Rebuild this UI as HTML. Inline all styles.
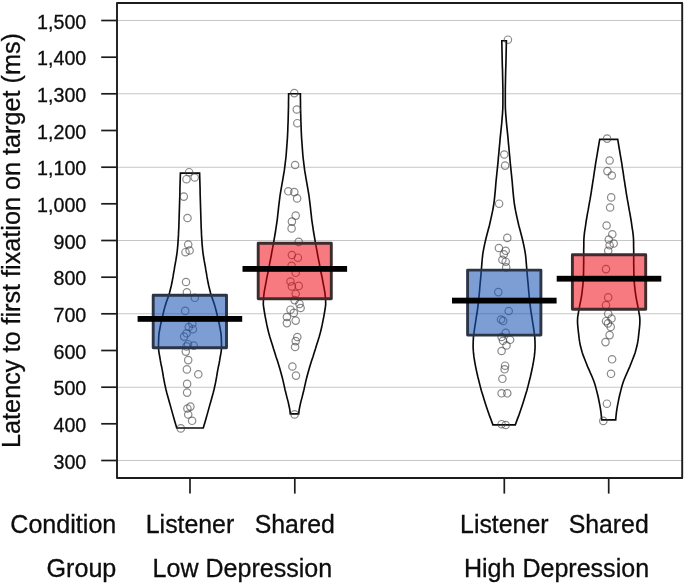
<!DOCTYPE html>
<html><head><meta charset="utf-8"><title>Pirate plot</title>
<style>
html,body{margin:0;padding:0;background:#fff;}
svg{display:block;}
text{font-family:"Liberation Sans",Arial,sans-serif;fill:#0d0d0d;stroke:#0d0d0d;stroke-width:0.3px;}
</style></head><body>
<svg width="685" height="585" viewBox="0 0 685 585">
<rect width="685" height="585" fill="#fff"/>

<line x1="117" x2="682" y1="460.5" y2="460.5" stroke="#c6c6c6" stroke-width="1.1"/>
<line x1="117" x2="682" y1="387.2" y2="387.2" stroke="#c6c6c6" stroke-width="1.1"/>
<line x1="117" x2="682" y1="313.8" y2="313.8" stroke="#c6c6c6" stroke-width="1.1"/>
<line x1="117" x2="682" y1="240.5" y2="240.5" stroke="#c6c6c6" stroke-width="1.1"/>
<line x1="117" x2="682" y1="167.2" y2="167.2" stroke="#c6c6c6" stroke-width="1.1"/>
<line x1="117" x2="682" y1="93.8" y2="93.8" stroke="#c6c6c6" stroke-width="1.1"/>
<line x1="117" x2="682" y1="20.5" y2="20.5" stroke="#c6c6c6" stroke-width="1.1"/>
<path d="M180.4,173.1 L180.3,176.3 L180.2,179.6 L180.1,182.8 L180.0,186.0 L179.9,189.2 L179.9,192.5 L179.8,195.7 L179.7,198.9 L179.6,202.1 L179.5,205.4 L179.4,208.6 L179.3,211.8 L179.2,215.0 L179.1,218.3 L179.0,221.5 L178.9,224.7 L178.8,228.0 L178.6,231.2 L178.5,234.4 L178.3,237.6 L178.1,240.9 L177.9,244.1 L177.6,247.3 L177.3,250.5 L176.9,253.8 L176.4,257.0 L175.9,260.2 L175.3,263.4 L174.7,266.7 L174.2,269.9 L173.6,273.1 L173.1,276.4 L172.5,279.6 L171.9,282.8 L171.2,286.0 L170.4,289.3 L169.6,292.5 L168.7,295.7 L167.5,298.9 L166.3,302.2 L165.3,305.4 L164.4,308.6 L163.6,311.8 L162.8,315.1 L162.1,318.3 L161.3,321.5 L160.6,324.7 L160.0,328.0 L159.4,331.2 L158.9,334.4 L158.7,337.7 L158.6,340.9 L158.5,344.1 L158.5,347.3 L158.7,350.6 L159.2,353.8 L159.8,357.0 L160.3,360.2 L160.9,363.5 L161.6,366.7 L162.2,369.9 L162.8,373.1 L163.3,376.4 L163.9,379.6 L164.5,382.8 L165.2,386.1 L165.9,389.3 L166.7,392.5 L167.6,395.7 L168.5,399.0 L169.4,402.2 L170.3,405.4 L171.2,408.6 L172.1,411.9 L173.0,415.1 L173.9,418.3 L174.8,421.5 L175.8,424.8 L176.7,428.0 L203.3,428.0 L204.2,424.8 L205.2,421.5 L206.1,418.3 L207.0,415.1 L207.9,411.9 L208.8,408.6 L209.7,405.4 L210.6,402.2 L211.5,399.0 L212.4,395.7 L213.3,392.5 L214.1,389.3 L214.8,386.1 L215.5,382.8 L216.1,379.6 L216.7,376.4 L217.2,373.1 L217.8,369.9 L218.4,366.7 L219.1,363.5 L219.7,360.2 L220.2,357.0 L220.8,353.8 L221.3,350.6 L221.5,347.3 L221.5,344.1 L221.4,340.9 L221.3,337.7 L221.1,334.4 L220.6,331.2 L220.0,328.0 L219.4,324.7 L218.7,321.5 L217.9,318.3 L217.2,315.1 L216.4,311.8 L215.6,308.6 L214.7,305.4 L213.7,302.2 L212.5,298.9 L211.3,295.7 L210.4,292.5 L209.6,289.3 L208.8,286.0 L208.1,282.8 L207.5,279.6 L206.9,276.4 L206.4,273.1 L205.8,269.9 L205.3,266.7 L204.7,263.4 L204.1,260.2 L203.6,257.0 L203.1,253.8 L202.7,250.5 L202.4,247.3 L202.1,244.1 L201.9,240.9 L201.7,237.6 L201.5,234.4 L201.4,231.2 L201.2,228.0 L201.1,224.7 L201.0,221.5 L200.9,218.3 L200.8,215.0 L200.7,211.8 L200.6,208.6 L200.5,205.4 L200.4,202.1 L200.3,198.9 L200.2,195.7 L200.1,192.5 L200.1,189.2 L200.0,186.0 L199.9,182.8 L199.8,179.6 L199.7,176.3 L199.6,173.1 Z" fill="none" stroke="#0a0a0a" stroke-width="1.65" stroke-linejoin="miter"/>
<path d="M288.6,93.7 L288.6,97.8 L288.5,101.8 L288.5,105.9 L288.4,109.9 L288.3,114.0 L288.2,118.0 L288.1,122.1 L287.9,126.1 L287.8,130.2 L287.6,134.2 L287.4,138.3 L287.1,142.3 L286.8,146.4 L286.5,150.4 L286.2,154.5 L285.8,158.5 L285.3,162.6 L284.8,166.6 L284.3,170.7 L283.6,174.7 L282.9,178.8 L282.2,182.8 L281.5,186.9 L280.8,190.9 L280.1,195.0 L279.6,199.0 L279.1,203.1 L278.6,207.2 L278.2,211.2 L277.7,215.3 L277.3,219.3 L276.7,223.4 L276.1,227.4 L275.5,231.5 L274.8,235.5 L274.1,239.6 L273.4,243.6 L272.7,247.7 L271.9,251.7 L271.2,255.8 L270.4,259.8 L269.6,263.9 L268.9,267.9 L268.1,272.0 L267.2,276.0 L266.4,280.1 L265.7,284.1 L264.9,288.2 L264.2,292.2 L263.7,296.3 L263.4,300.3 L263.3,304.4 L263.8,308.5 L264.5,312.5 L265.2,316.6 L266.0,320.6 L266.8,324.7 L267.7,328.7 L268.7,332.8 L269.8,336.8 L271.1,340.9 L272.4,344.9 L273.6,349.0 L274.9,353.0 L276.1,357.1 L277.5,361.1 L278.8,365.2 L280.0,369.2 L281.1,373.3 L282.2,377.3 L283.2,381.4 L284.1,385.4 L285.0,389.5 L286.0,393.5 L287.0,397.6 L288.1,401.6 L289.0,405.7 L289.8,409.7 L290.3,413.8 L298.7,413.8 L299.2,409.7 L300.0,405.7 L300.9,401.6 L302.0,397.6 L303.0,393.5 L304.0,389.5 L304.9,385.4 L305.8,381.4 L306.8,377.3 L307.9,373.3 L309.0,369.2 L310.2,365.2 L311.5,361.1 L312.9,357.1 L314.1,353.0 L315.4,349.0 L316.6,344.9 L317.9,340.9 L319.2,336.8 L320.3,332.8 L321.3,328.7 L322.2,324.7 L323.0,320.6 L323.8,316.6 L324.5,312.5 L325.2,308.5 L325.7,304.4 L325.6,300.3 L325.3,296.3 L324.8,292.2 L324.1,288.2 L323.3,284.1 L322.6,280.1 L321.8,276.0 L320.9,272.0 L320.1,267.9 L319.4,263.9 L318.6,259.8 L317.8,255.8 L317.1,251.7 L316.3,247.7 L315.6,243.6 L314.9,239.6 L314.2,235.5 L313.5,231.5 L312.9,227.4 L312.3,223.4 L311.7,219.3 L311.3,215.3 L310.8,211.2 L310.4,207.2 L309.9,203.1 L309.4,199.0 L308.9,195.0 L308.2,190.9 L307.5,186.9 L306.8,182.8 L306.1,178.8 L305.4,174.7 L304.7,170.7 L304.2,166.6 L303.7,162.6 L303.2,158.5 L302.8,154.5 L302.5,150.4 L302.2,146.4 L301.9,142.3 L301.6,138.3 L301.4,134.2 L301.2,130.2 L301.1,126.1 L300.9,122.1 L300.8,118.0 L300.7,114.0 L300.6,109.9 L300.5,105.9 L300.5,101.8 L300.4,97.8 L300.4,93.7 Z" fill="none" stroke="#0a0a0a" stroke-width="1.65" stroke-linejoin="miter"/>
<path d="M501.8,40.7 L501.9,45.6 L502.0,50.4 L502.1,55.3 L502.2,60.1 L502.3,65.0 L502.5,69.9 L502.6,74.7 L502.7,79.6 L502.8,84.5 L502.9,89.3 L502.9,94.2 L502.9,99.0 L502.9,103.9 L502.8,108.8 L502.5,113.6 L502.1,118.5 L501.7,123.4 L501.2,128.2 L500.7,133.1 L500.2,137.9 L499.8,142.8 L499.3,147.7 L498.9,152.5 L498.4,157.4 L498.0,162.3 L497.5,167.1 L497.0,172.0 L496.5,176.8 L496.0,181.7 L495.6,186.6 L495.2,191.4 L494.7,196.3 L494.2,201.1 L493.5,206.0 L492.6,210.9 L491.6,215.7 L490.5,220.6 L489.4,225.5 L488.1,230.3 L486.8,235.2 L485.6,240.0 L484.5,244.9 L483.5,249.8 L482.7,254.6 L482.2,259.5 L481.8,264.4 L481.4,269.2 L481.0,274.1 L480.6,278.9 L480.1,283.8 L479.7,288.7 L479.3,293.5 L478.8,298.4 L478.3,303.2 L477.7,308.1 L477.0,313.0 L476.2,317.8 L475.5,322.7 L474.7,327.6 L474.0,332.4 L473.4,337.3 L473.2,342.1 L473.1,347.0 L473.4,351.9 L473.9,356.7 L474.7,361.6 L475.6,366.5 L476.6,371.3 L477.7,376.2 L478.9,381.0 L480.1,385.9 L481.4,390.8 L482.9,395.6 L484.4,400.5 L486.0,405.4 L487.6,410.2 L489.3,415.1 L491.1,419.9 L492.9,424.8 L515.3,424.8 L517.1,419.9 L518.9,415.1 L520.6,410.2 L522.2,405.4 L523.8,400.5 L525.3,395.6 L526.8,390.8 L528.1,385.9 L529.3,381.0 L530.5,376.2 L531.6,371.3 L532.6,366.5 L533.5,361.6 L534.3,356.7 L534.8,351.9 L535.1,347.0 L535.0,342.1 L534.8,337.3 L534.2,332.4 L533.5,327.6 L532.7,322.7 L532.0,317.8 L531.2,313.0 L530.5,308.1 L529.9,303.2 L529.4,298.4 L528.9,293.5 L528.5,288.7 L528.1,283.8 L527.6,278.9 L527.2,274.1 L526.8,269.2 L526.4,264.4 L526.0,259.5 L525.5,254.6 L524.7,249.8 L523.7,244.9 L522.6,240.0 L521.4,235.2 L520.1,230.3 L518.8,225.5 L517.7,220.6 L516.6,215.7 L515.6,210.9 L514.7,206.0 L514.0,201.1 L513.5,196.3 L513.0,191.4 L512.6,186.6 L512.2,181.7 L511.7,176.8 L511.2,172.0 L510.7,167.1 L510.2,162.3 L509.8,157.4 L509.3,152.5 L508.9,147.7 L508.4,142.8 L508.0,137.9 L507.5,133.1 L507.0,128.2 L506.5,123.4 L506.1,118.5 L505.7,113.6 L505.4,108.8 L505.3,103.9 L505.3,99.0 L505.3,94.2 L505.3,89.3 L505.4,84.5 L505.5,79.6 L505.6,74.7 L505.7,69.9 L505.9,65.0 L506.0,60.1 L506.1,55.3 L506.2,50.4 L506.3,45.6 L506.4,40.7 Z" fill="none" stroke="#0a0a0a" stroke-width="1.65" stroke-linejoin="miter"/>
<path d="M599.7,139.4 L599.1,142.9 L598.5,146.5 L597.9,150.0 L597.3,153.6 L596.7,157.1 L596.1,160.7 L595.5,164.2 L595.0,167.8 L594.4,171.3 L593.9,174.9 L593.4,178.4 L592.8,182.0 L592.3,185.5 L591.7,189.1 L591.2,192.6 L590.6,196.2 L590.0,199.7 L589.3,203.3 L588.7,206.8 L588.1,210.4 L587.4,213.9 L586.8,217.5 L586.2,221.0 L585.7,224.6 L585.2,228.1 L584.6,231.7 L584.2,235.2 L583.9,238.8 L583.8,242.3 L583.8,245.9 L583.7,249.4 L583.7,253.0 L583.7,256.5 L583.7,260.1 L583.7,263.6 L583.6,267.2 L583.6,270.7 L583.5,274.3 L583.4,277.8 L583.2,281.4 L582.9,284.9 L582.5,288.5 L582.1,292.0 L581.6,295.6 L581.0,299.1 L580.3,302.7 L579.6,306.2 L578.9,309.8 L578.3,313.3 L577.7,316.9 L577.5,320.4 L577.6,324.0 L577.9,327.5 L578.3,331.1 L578.7,334.6 L579.1,338.2 L579.6,341.7 L580.3,345.3 L581.2,348.8 L582.2,352.4 L583.4,355.9 L584.8,359.5 L586.2,363.0 L587.6,366.6 L589.2,370.1 L590.7,373.7 L592.3,377.2 L593.7,380.8 L594.9,384.3 L595.9,387.9 L596.8,391.4 L597.7,395.0 L598.5,398.5 L599.2,402.1 L599.9,405.6 L600.5,409.2 L601.0,412.7 L601.4,416.3 L601.7,419.8 L615.7,419.8 L616.0,416.3 L616.4,412.7 L616.9,409.2 L617.5,405.6 L618.2,402.1 L618.9,398.5 L619.7,395.0 L620.6,391.4 L621.5,387.9 L622.5,384.3 L623.7,380.8 L625.1,377.2 L626.7,373.7 L628.2,370.1 L629.8,366.6 L631.2,363.0 L632.6,359.5 L634.0,355.9 L635.2,352.4 L636.2,348.8 L637.1,345.3 L637.8,341.7 L638.3,338.2 L638.7,334.6 L639.1,331.1 L639.5,327.5 L639.8,324.0 L639.9,320.4 L639.7,316.9 L639.1,313.3 L638.5,309.8 L637.8,306.2 L637.1,302.7 L636.4,299.1 L635.8,295.6 L635.3,292.0 L634.9,288.5 L634.5,284.9 L634.2,281.4 L634.0,277.8 L633.9,274.3 L633.8,270.7 L633.8,267.2 L633.7,263.6 L633.7,260.1 L633.7,256.5 L633.7,253.0 L633.7,249.4 L633.6,245.9 L633.6,242.3 L633.5,238.8 L633.2,235.2 L632.8,231.7 L632.2,228.1 L631.7,224.6 L631.2,221.0 L630.6,217.5 L630.0,213.9 L629.3,210.4 L628.7,206.8 L628.1,203.3 L627.4,199.7 L626.8,196.2 L626.2,192.6 L625.7,189.1 L625.1,185.5 L624.6,182.0 L624.0,178.4 L623.5,174.9 L623.0,171.3 L622.4,167.8 L621.9,164.2 L621.3,160.7 L620.7,157.1 L620.1,153.6 L619.5,150.0 L618.9,146.5 L618.3,142.9 L617.7,139.4 Z" fill="none" stroke="#0a0a0a" stroke-width="1.65" stroke-linejoin="miter"/>
<circle cx="189.1" cy="172.2" r="3.7" fill="none" stroke="#3c3c3c" stroke-opacity="0.6" stroke-width="1.2"/>
<circle cx="186.5" cy="179.2" r="3.7" fill="none" stroke="#3c3c3c" stroke-opacity="0.6" stroke-width="1.2"/>
<circle cx="194.7" cy="177.5" r="3.7" fill="none" stroke="#3c3c3c" stroke-opacity="0.6" stroke-width="1.2"/>
<circle cx="183.8" cy="196.6" r="3.7" fill="none" stroke="#3c3c3c" stroke-opacity="0.6" stroke-width="1.2"/>
<circle cx="187.5" cy="218.0" r="3.7" fill="none" stroke="#3c3c3c" stroke-opacity="0.6" stroke-width="1.2"/>
<circle cx="188.2" cy="244.5" r="3.7" fill="none" stroke="#3c3c3c" stroke-opacity="0.6" stroke-width="1.2"/>
<circle cx="185.5" cy="252.2" r="3.7" fill="none" stroke="#3c3c3c" stroke-opacity="0.6" stroke-width="1.2"/>
<circle cx="189.6" cy="250.5" r="3.7" fill="none" stroke="#3c3c3c" stroke-opacity="0.6" stroke-width="1.2"/>
<circle cx="186.0" cy="282.0" r="3.7" fill="none" stroke="#3c3c3c" stroke-opacity="0.6" stroke-width="1.2"/>
<circle cx="186.9" cy="292.3" r="3.7" fill="none" stroke="#3c3c3c" stroke-opacity="0.6" stroke-width="1.2"/>
<circle cx="194.8" cy="297.8" r="3.7" fill="none" stroke="#3c3c3c" stroke-opacity="0.6" stroke-width="1.2"/>
<circle cx="185.2" cy="310.9" r="3.7" fill="none" stroke="#3c3c3c" stroke-opacity="0.6" stroke-width="1.2"/>
<circle cx="192.3" cy="323.7" r="3.7" fill="none" stroke="#3c3c3c" stroke-opacity="0.6" stroke-width="1.2"/>
<circle cx="188.8" cy="327.0" r="3.7" fill="none" stroke="#3c3c3c" stroke-opacity="0.6" stroke-width="1.2"/>
<circle cx="192.9" cy="329.2" r="3.7" fill="none" stroke="#3c3c3c" stroke-opacity="0.6" stroke-width="1.2"/>
<circle cx="186.6" cy="333.3" r="3.7" fill="none" stroke="#3c3c3c" stroke-opacity="0.6" stroke-width="1.2"/>
<circle cx="184.1" cy="336.6" r="3.7" fill="none" stroke="#3c3c3c" stroke-opacity="0.6" stroke-width="1.2"/>
<circle cx="188.0" cy="344.2" r="3.7" fill="none" stroke="#3c3c3c" stroke-opacity="0.6" stroke-width="1.2"/>
<circle cx="193.7" cy="345.6" r="3.7" fill="none" stroke="#3c3c3c" stroke-opacity="0.6" stroke-width="1.2"/>
<circle cx="186.6" cy="346.4" r="3.7" fill="none" stroke="#3c3c3c" stroke-opacity="0.6" stroke-width="1.2"/>
<circle cx="185.8" cy="351.6" r="3.7" fill="none" stroke="#3c3c3c" stroke-opacity="0.6" stroke-width="1.2"/>
<circle cx="188.2" cy="360.1" r="3.7" fill="none" stroke="#3c3c3c" stroke-opacity="0.6" stroke-width="1.2"/>
<circle cx="186.9" cy="369.4" r="3.7" fill="none" stroke="#3c3c3c" stroke-opacity="0.6" stroke-width="1.2"/>
<circle cx="198.3" cy="374.3" r="3.7" fill="none" stroke="#3c3c3c" stroke-opacity="0.6" stroke-width="1.2"/>
<circle cx="187.1" cy="383.9" r="3.7" fill="none" stroke="#3c3c3c" stroke-opacity="0.6" stroke-width="1.2"/>
<circle cx="187.1" cy="392.6" r="3.7" fill="none" stroke="#3c3c3c" stroke-opacity="0.6" stroke-width="1.2"/>
<circle cx="190.4" cy="406.6" r="3.7" fill="none" stroke="#3c3c3c" stroke-opacity="0.6" stroke-width="1.2"/>
<circle cx="187.4" cy="408.5" r="3.7" fill="none" stroke="#3c3c3c" stroke-opacity="0.6" stroke-width="1.2"/>
<circle cx="188.2" cy="414.5" r="3.7" fill="none" stroke="#3c3c3c" stroke-opacity="0.6" stroke-width="1.2"/>
<circle cx="192.1" cy="420.8" r="3.7" fill="none" stroke="#3c3c3c" stroke-opacity="0.6" stroke-width="1.2"/>
<circle cx="180.8" cy="428.4" r="3.7" fill="none" stroke="#3c3c3c" stroke-opacity="0.6" stroke-width="1.2"/>
<circle cx="294.3" cy="93.1" r="3.7" fill="none" stroke="#3c3c3c" stroke-opacity="0.6" stroke-width="1.2"/>
<circle cx="296.8" cy="109.5" r="3.7" fill="none" stroke="#3c3c3c" stroke-opacity="0.6" stroke-width="1.2"/>
<circle cx="297.3" cy="123.2" r="3.7" fill="none" stroke="#3c3c3c" stroke-opacity="0.6" stroke-width="1.2"/>
<circle cx="295.1" cy="165.0" r="3.7" fill="none" stroke="#3c3c3c" stroke-opacity="0.6" stroke-width="1.2"/>
<circle cx="288.3" cy="191.3" r="3.7" fill="none" stroke="#3c3c3c" stroke-opacity="0.6" stroke-width="1.2"/>
<circle cx="294.3" cy="192.1" r="3.7" fill="none" stroke="#3c3c3c" stroke-opacity="0.6" stroke-width="1.2"/>
<circle cx="297.1" cy="198.4" r="3.7" fill="none" stroke="#3c3c3c" stroke-opacity="0.6" stroke-width="1.2"/>
<circle cx="295.7" cy="215.6" r="3.7" fill="none" stroke="#3c3c3c" stroke-opacity="0.6" stroke-width="1.2"/>
<circle cx="291.9" cy="221.6" r="3.7" fill="none" stroke="#3c3c3c" stroke-opacity="0.6" stroke-width="1.2"/>
<circle cx="291.6" cy="228.4" r="3.7" fill="none" stroke="#3c3c3c" stroke-opacity="0.6" stroke-width="1.2"/>
<circle cx="298.7" cy="241.9" r="3.7" fill="none" stroke="#3c3c3c" stroke-opacity="0.6" stroke-width="1.2"/>
<circle cx="291.9" cy="255.0" r="3.7" fill="none" stroke="#3c3c3c" stroke-opacity="0.6" stroke-width="1.2"/>
<circle cx="297.9" cy="257.7" r="3.7" fill="none" stroke="#3c3c3c" stroke-opacity="0.6" stroke-width="1.2"/>
<circle cx="291.6" cy="265.9" r="3.7" fill="none" stroke="#3c3c3c" stroke-opacity="0.6" stroke-width="1.2"/>
<circle cx="295.7" cy="272.8" r="3.7" fill="none" stroke="#3c3c3c" stroke-opacity="0.6" stroke-width="1.2"/>
<circle cx="290.5" cy="281.5" r="3.7" fill="none" stroke="#3c3c3c" stroke-opacity="0.6" stroke-width="1.2"/>
<circle cx="291.9" cy="286.4" r="3.7" fill="none" stroke="#3c3c3c" stroke-opacity="0.6" stroke-width="1.2"/>
<circle cx="298.7" cy="285.9" r="3.7" fill="none" stroke="#3c3c3c" stroke-opacity="0.6" stroke-width="1.2"/>
<circle cx="295.7" cy="293.8" r="3.7" fill="none" stroke="#3c3c3c" stroke-opacity="0.6" stroke-width="1.2"/>
<circle cx="294.6" cy="300.1" r="3.7" fill="none" stroke="#3c3c3c" stroke-opacity="0.6" stroke-width="1.2"/>
<circle cx="299.5" cy="303.9" r="3.7" fill="none" stroke="#3c3c3c" stroke-opacity="0.6" stroke-width="1.2"/>
<circle cx="300.6" cy="308.0" r="3.7" fill="none" stroke="#3c3c3c" stroke-opacity="0.6" stroke-width="1.2"/>
<circle cx="290.5" cy="309.7" r="3.7" fill="none" stroke="#3c3c3c" stroke-opacity="0.6" stroke-width="1.2"/>
<circle cx="293.8" cy="312.9" r="3.7" fill="none" stroke="#3c3c3c" stroke-opacity="0.6" stroke-width="1.2"/>
<circle cx="286.9" cy="317.0" r="3.7" fill="none" stroke="#3c3c3c" stroke-opacity="0.6" stroke-width="1.2"/>
<circle cx="295.7" cy="320.6" r="3.7" fill="none" stroke="#3c3c3c" stroke-opacity="0.6" stroke-width="1.2"/>
<circle cx="286.9" cy="323.1" r="3.7" fill="none" stroke="#3c3c3c" stroke-opacity="0.6" stroke-width="1.2"/>
<circle cx="297.3" cy="337.0" r="3.7" fill="none" stroke="#3c3c3c" stroke-opacity="0.6" stroke-width="1.2"/>
<circle cx="295.7" cy="341.1" r="3.7" fill="none" stroke="#3c3c3c" stroke-opacity="0.6" stroke-width="1.2"/>
<circle cx="295.1" cy="347.0" r="3.7" fill="none" stroke="#3c3c3c" stroke-opacity="0.6" stroke-width="1.2"/>
<circle cx="292.4" cy="366.5" r="3.7" fill="none" stroke="#3c3c3c" stroke-opacity="0.6" stroke-width="1.2"/>
<circle cx="296.0" cy="375.6" r="3.7" fill="none" stroke="#3c3c3c" stroke-opacity="0.6" stroke-width="1.2"/>
<circle cx="294.6" cy="414.4" r="3.7" fill="none" stroke="#3c3c3c" stroke-opacity="0.6" stroke-width="1.2"/>
<circle cx="507.9" cy="39.7" r="3.7" fill="none" stroke="#3c3c3c" stroke-opacity="0.6" stroke-width="1.2"/>
<circle cx="504.3" cy="154.5" r="3.7" fill="none" stroke="#3c3c3c" stroke-opacity="0.6" stroke-width="1.2"/>
<circle cx="505.1" cy="165.6" r="3.7" fill="none" stroke="#3c3c3c" stroke-opacity="0.6" stroke-width="1.2"/>
<circle cx="499.1" cy="203.7" r="3.7" fill="none" stroke="#3c3c3c" stroke-opacity="0.6" stroke-width="1.2"/>
<circle cx="507.3" cy="237.9" r="3.7" fill="none" stroke="#3c3c3c" stroke-opacity="0.6" stroke-width="1.2"/>
<circle cx="498.9" cy="248.0" r="3.7" fill="none" stroke="#3c3c3c" stroke-opacity="0.6" stroke-width="1.2"/>
<circle cx="505.7" cy="250.8" r="3.7" fill="none" stroke="#3c3c3c" stroke-opacity="0.6" stroke-width="1.2"/>
<circle cx="503.8" cy="254.3" r="3.7" fill="none" stroke="#3c3c3c" stroke-opacity="0.6" stroke-width="1.2"/>
<circle cx="502.4" cy="259.8" r="3.7" fill="none" stroke="#3c3c3c" stroke-opacity="0.6" stroke-width="1.2"/>
<circle cx="505.7" cy="261.7" r="3.7" fill="none" stroke="#3c3c3c" stroke-opacity="0.6" stroke-width="1.2"/>
<circle cx="506.2" cy="267.4" r="3.7" fill="none" stroke="#3c3c3c" stroke-opacity="0.6" stroke-width="1.2"/>
<circle cx="498.3" cy="292.1" r="3.7" fill="none" stroke="#3c3c3c" stroke-opacity="0.6" stroke-width="1.2"/>
<circle cx="508.7" cy="311.0" r="3.7" fill="none" stroke="#3c3c3c" stroke-opacity="0.6" stroke-width="1.2"/>
<circle cx="501.0" cy="319.5" r="3.7" fill="none" stroke="#3c3c3c" stroke-opacity="0.6" stroke-width="1.2"/>
<circle cx="503.2" cy="320.9" r="3.7" fill="none" stroke="#3c3c3c" stroke-opacity="0.6" stroke-width="1.2"/>
<circle cx="505.7" cy="332.9" r="3.7" fill="none" stroke="#3c3c3c" stroke-opacity="0.6" stroke-width="1.2"/>
<circle cx="501.6" cy="337.0" r="3.7" fill="none" stroke="#3c3c3c" stroke-opacity="0.6" stroke-width="1.2"/>
<circle cx="510.1" cy="339.8" r="3.7" fill="none" stroke="#3c3c3c" stroke-opacity="0.6" stroke-width="1.2"/>
<circle cx="503.0" cy="340.8" r="3.7" fill="none" stroke="#3c3c3c" stroke-opacity="0.6" stroke-width="1.2"/>
<circle cx="506.5" cy="345.5" r="3.7" fill="none" stroke="#3c3c3c" stroke-opacity="0.6" stroke-width="1.2"/>
<circle cx="501.6" cy="351.0" r="3.7" fill="none" stroke="#3c3c3c" stroke-opacity="0.6" stroke-width="1.2"/>
<circle cx="505.1" cy="365.7" r="3.7" fill="none" stroke="#3c3c3c" stroke-opacity="0.6" stroke-width="1.2"/>
<circle cx="504.6" cy="369.3" r="3.7" fill="none" stroke="#3c3c3c" stroke-opacity="0.6" stroke-width="1.2"/>
<circle cx="502.4" cy="378.8" r="3.7" fill="none" stroke="#3c3c3c" stroke-opacity="0.6" stroke-width="1.2"/>
<circle cx="501.6" cy="393.3" r="3.7" fill="none" stroke="#3c3c3c" stroke-opacity="0.6" stroke-width="1.2"/>
<circle cx="507.3" cy="393.3" r="3.7" fill="none" stroke="#3c3c3c" stroke-opacity="0.6" stroke-width="1.2"/>
<circle cx="501.6" cy="424.2" r="3.7" fill="none" stroke="#3c3c3c" stroke-opacity="0.6" stroke-width="1.2"/>
<circle cx="505.7" cy="425.0" r="3.7" fill="none" stroke="#3c3c3c" stroke-opacity="0.6" stroke-width="1.2"/>
<circle cx="607.1" cy="138.6" r="3.7" fill="none" stroke="#3c3c3c" stroke-opacity="0.6" stroke-width="1.2"/>
<circle cx="609.6" cy="160.5" r="3.7" fill="none" stroke="#3c3c3c" stroke-opacity="0.6" stroke-width="1.2"/>
<circle cx="607.4" cy="171.1" r="3.7" fill="none" stroke="#3c3c3c" stroke-opacity="0.6" stroke-width="1.2"/>
<circle cx="611.8" cy="175.5" r="3.7" fill="none" stroke="#3c3c3c" stroke-opacity="0.6" stroke-width="1.2"/>
<circle cx="611.2" cy="197.4" r="3.7" fill="none" stroke="#3c3c3c" stroke-opacity="0.6" stroke-width="1.2"/>
<circle cx="610.1" cy="207.5" r="3.7" fill="none" stroke="#3c3c3c" stroke-opacity="0.6" stroke-width="1.2"/>
<circle cx="606.6" cy="225.5" r="3.7" fill="none" stroke="#3c3c3c" stroke-opacity="0.6" stroke-width="1.2"/>
<circle cx="612.3" cy="234.3" r="3.7" fill="none" stroke="#3c3c3c" stroke-opacity="0.6" stroke-width="1.2"/>
<circle cx="608.8" cy="239.5" r="3.7" fill="none" stroke="#3c3c3c" stroke-opacity="0.6" stroke-width="1.2"/>
<circle cx="613.7" cy="243.5" r="3.7" fill="none" stroke="#3c3c3c" stroke-opacity="0.6" stroke-width="1.2"/>
<circle cx="609.6" cy="245.2" r="3.7" fill="none" stroke="#3c3c3c" stroke-opacity="0.6" stroke-width="1.2"/>
<circle cx="608.2" cy="250.8" r="3.7" fill="none" stroke="#3c3c3c" stroke-opacity="0.6" stroke-width="1.2"/>
<circle cx="606.0" cy="269.1" r="3.7" fill="none" stroke="#3c3c3c" stroke-opacity="0.6" stroke-width="1.2"/>
<circle cx="608.2" cy="297.4" r="3.7" fill="none" stroke="#3c3c3c" stroke-opacity="0.6" stroke-width="1.2"/>
<circle cx="606.0" cy="305.1" r="3.7" fill="none" stroke="#3c3c3c" stroke-opacity="0.6" stroke-width="1.2"/>
<circle cx="608.2" cy="313.8" r="3.7" fill="none" stroke="#3c3c3c" stroke-opacity="0.6" stroke-width="1.2"/>
<circle cx="611.5" cy="318.5" r="3.7" fill="none" stroke="#3c3c3c" stroke-opacity="0.6" stroke-width="1.2"/>
<circle cx="606.0" cy="321.2" r="3.7" fill="none" stroke="#3c3c3c" stroke-opacity="0.6" stroke-width="1.2"/>
<circle cx="608.0" cy="323.4" r="3.7" fill="none" stroke="#3c3c3c" stroke-opacity="0.6" stroke-width="1.2"/>
<circle cx="610.7" cy="326.9" r="3.7" fill="none" stroke="#3c3c3c" stroke-opacity="0.6" stroke-width="1.2"/>
<circle cx="609.6" cy="335.1" r="3.7" fill="none" stroke="#3c3c3c" stroke-opacity="0.6" stroke-width="1.2"/>
<circle cx="605.5" cy="342.1" r="3.7" fill="none" stroke="#3c3c3c" stroke-opacity="0.6" stroke-width="1.2"/>
<circle cx="612.1" cy="359.3" r="3.7" fill="none" stroke="#3c3c3c" stroke-opacity="0.6" stroke-width="1.2"/>
<circle cx="611.0" cy="373.8" r="3.7" fill="none" stroke="#3c3c3c" stroke-opacity="0.6" stroke-width="1.2"/>
<circle cx="606.9" cy="403.7" r="3.7" fill="none" stroke="#3c3c3c" stroke-opacity="0.6" stroke-width="1.2"/>
<circle cx="603.3" cy="420.9" r="3.7" fill="none" stroke="#3c3c3c" stroke-opacity="0.6" stroke-width="1.2"/>
<rect x="153.2" y="295.3" width="73.3" height="52.4" fill="#1a55b5" fill-opacity="0.57" stroke="#2b3546" stroke-width="2.9" stroke-linejoin="round"/>
<rect x="258.2" y="243.2" width="73.1" height="55.6" fill="#EE0009" fill-opacity="0.52" stroke="#3d2c2e" stroke-width="2.9" stroke-linejoin="round"/>
<rect x="467.6" y="270.1" width="73.3" height="65.0" fill="#1a55b5" fill-opacity="0.57" stroke="#2b3546" stroke-width="2.9" stroke-linejoin="round"/>
<rect x="572.4" y="254.8" width="73.3" height="54.4" fill="#EE0009" fill-opacity="0.52" stroke="#3d2c2e" stroke-width="2.9" stroke-linejoin="round"/>
<rect x="137.6" y="316.0" width="104.6" height="5.8" fill="#000"/>
<rect x="242.5" y="266.0" width="104.6" height="5.8" fill="#000"/>
<rect x="452.0" y="297.7" width="104.6" height="5.8" fill="#000"/>
<rect x="556.7" y="275.8" width="104.6" height="5.8" fill="#000"/>
<rect x="117.0" y="3.05" width="565.2" height="475.0" fill="none" stroke="#1c1c1c" stroke-width="1.9" stroke-linejoin="round"/>
<line x1="101.2" x2="117" y1="460.5" y2="460.5" stroke="#1c1c1c" stroke-width="1.7"/>
<text x="86.3" y="468.5" font-size="19.7" text-anchor="end">300</text>
<line x1="101.2" x2="117" y1="423.8" y2="423.8" stroke="#1c1c1c" stroke-width="1.7"/>
<text x="86.3" y="431.8" font-size="19.7" text-anchor="end">400</text>
<line x1="101.2" x2="117" y1="387.2" y2="387.2" stroke="#1c1c1c" stroke-width="1.7"/>
<text x="86.3" y="395.2" font-size="19.7" text-anchor="end">500</text>
<line x1="101.2" x2="117" y1="350.5" y2="350.5" stroke="#1c1c1c" stroke-width="1.7"/>
<text x="86.3" y="358.5" font-size="19.7" text-anchor="end">600</text>
<line x1="101.2" x2="117" y1="313.8" y2="313.8" stroke="#1c1c1c" stroke-width="1.7"/>
<text x="86.3" y="321.8" font-size="19.7" text-anchor="end">700</text>
<line x1="101.2" x2="117" y1="277.2" y2="277.2" stroke="#1c1c1c" stroke-width="1.7"/>
<text x="86.3" y="285.2" font-size="19.7" text-anchor="end">800</text>
<line x1="101.2" x2="117" y1="240.5" y2="240.5" stroke="#1c1c1c" stroke-width="1.7"/>
<text x="86.3" y="248.5" font-size="19.7" text-anchor="end">900</text>
<line x1="101.2" x2="117" y1="203.8" y2="203.8" stroke="#1c1c1c" stroke-width="1.7"/>
<text x="86.3" y="211.8" font-size="19.7" text-anchor="end">1,000</text>
<line x1="101.2" x2="117" y1="167.2" y2="167.2" stroke="#1c1c1c" stroke-width="1.7"/>
<text x="86.3" y="175.2" font-size="19.7" text-anchor="end">1,100</text>
<line x1="101.2" x2="117" y1="130.5" y2="130.5" stroke="#1c1c1c" stroke-width="1.7"/>
<text x="86.3" y="138.5" font-size="19.7" text-anchor="end">1,200</text>
<line x1="101.2" x2="117" y1="93.8" y2="93.8" stroke="#1c1c1c" stroke-width="1.7"/>
<text x="86.3" y="101.8" font-size="19.7" text-anchor="end">1,300</text>
<line x1="101.2" x2="117" y1="57.2" y2="57.2" stroke="#1c1c1c" stroke-width="1.7"/>
<text x="86.3" y="65.2" font-size="19.7" text-anchor="end">1,400</text>
<line x1="101.2" x2="117" y1="20.5" y2="20.5" stroke="#1c1c1c" stroke-width="1.7"/>
<text x="86.3" y="28.5" font-size="19.7" text-anchor="end">1,500</text>
<line x1="190.0" x2="190.0" y1="478.1" y2="493.6" stroke="#1c1c1c" stroke-width="1.7"/>
<line x1="294.8" x2="294.8" y1="478.1" y2="493.6" stroke="#1c1c1c" stroke-width="1.7"/>
<line x1="504.3" x2="504.3" y1="478.1" y2="493.6" stroke="#1c1c1c" stroke-width="1.7"/>
<line x1="608.7" x2="608.7" y1="478.1" y2="493.6" stroke="#1c1c1c" stroke-width="1.7"/>
<text transform="translate(20.2,240.5) rotate(-90)" font-size="25.22" text-anchor="middle">Latency to first fixation on target (ms)</text>
<text x="116.3" y="532.6" font-size="25.1" text-anchor="end">Condition</text>
<text x="116.3" y="576.8" font-size="25.1" text-anchor="end">Group</text>
<text x="190.0" y="532.7" font-size="24.85" text-anchor="middle">Listener</text>
<text x="294.8" y="532.7" font-size="24.85" text-anchor="middle">Shared</text>
<text x="504.3" y="532.7" font-size="24.85" text-anchor="middle">Listener</text>
<text x="608.7" y="532.7" font-size="24.85" text-anchor="middle">Shared</text>
<text x="242.4" y="576.9" font-size="25.05" text-anchor="middle">Low Depression</text>
<text x="556.5" y="576.9" font-size="25.05" text-anchor="middle">High Depression</text>
</svg></body></html>
